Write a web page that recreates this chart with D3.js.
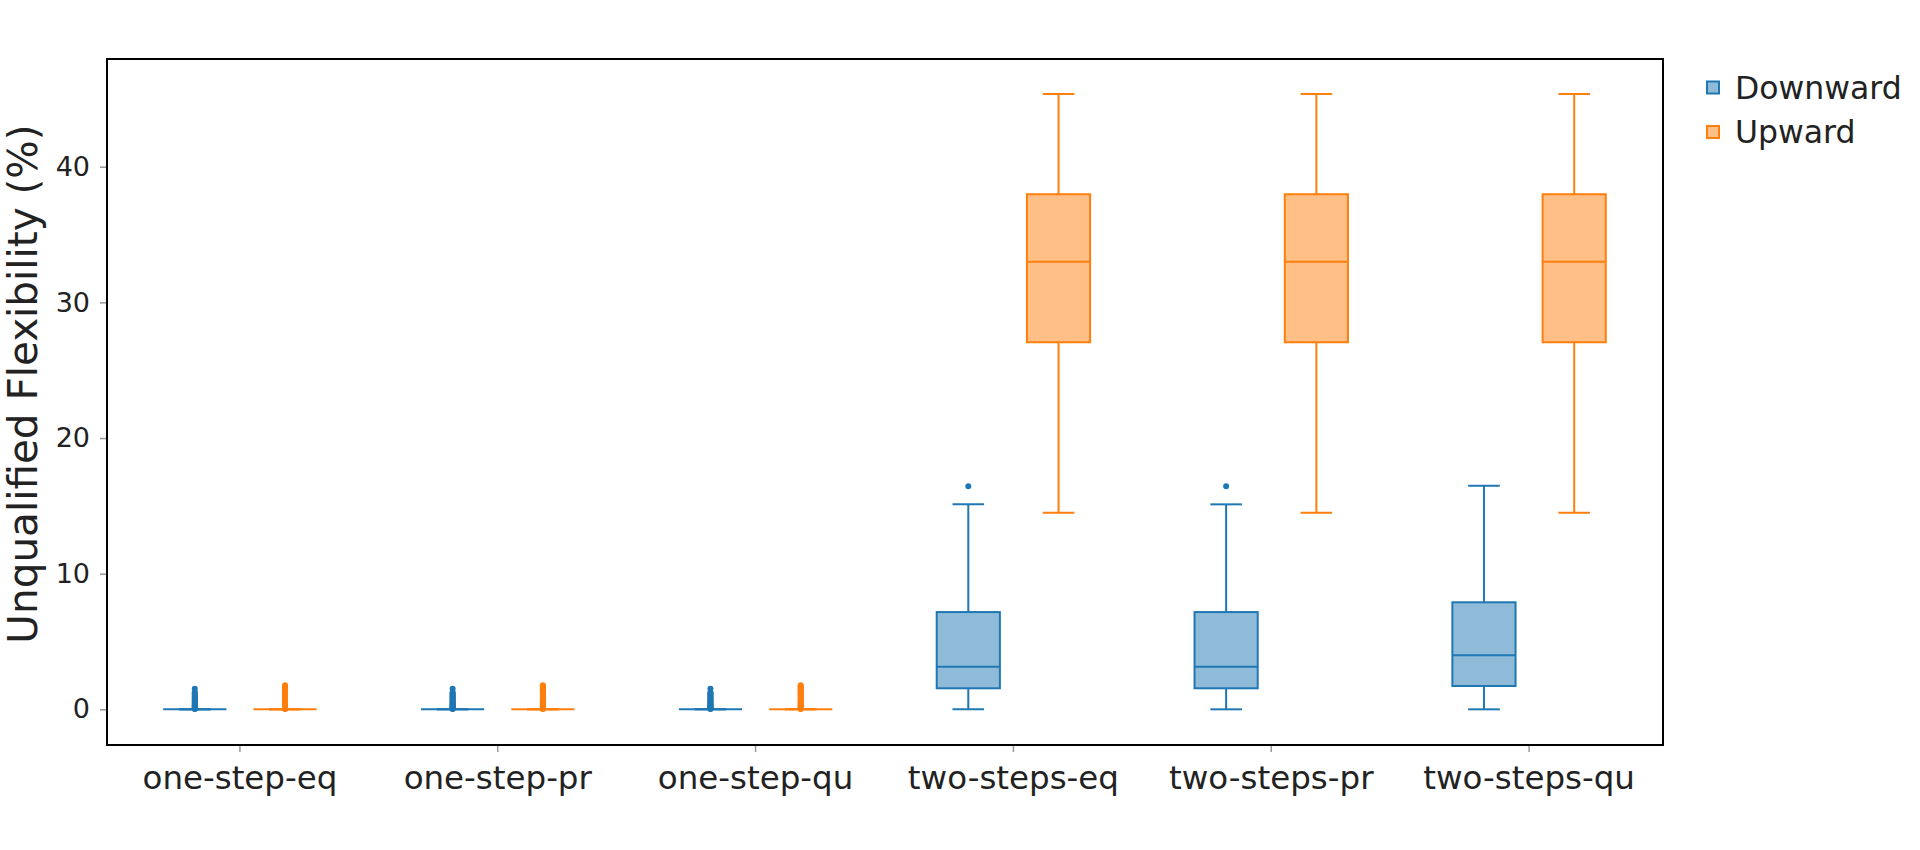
<!DOCTYPE html>
<html>
<head>
<meta charset="utf-8">
<script src="https://cdn.jsdelivr.net/npm/d3@7"></script>
<style>
  html, body { margin: 0; padding: 0; background: #fff; }
  svg { display: block; }
  text { font-family: "DejaVu Sans", Verdana, sans-serif; fill: #222; }
</style>
</head>
<body>
<svg id="chart" width="1920" height="850"></svg>
<script>
// ---- data ----
const categories = ["one-step-eq", "one-step-pr", "one-step-qu", "two-steps-eq", "two-steps-pr", "two-steps-qu"];
const seriesNames = ["Downward", "Upward"];
const seriesColors = ["#1f77b4", "#ff7f0e"];
const yTicks = [0, 10, 20, 30, 40];

// box statistics per category: [lowerWhisker, q1, median, q3, upperWhisker]
const downwardStats = [
  [0, 0, 0, 0, 0],
  [0, 0, 0, 0, 0],
  [0, 0, 0, 0, 0],
  [0, 1.55, 3.14, 7.17, 15.11],
  [0, 1.55, 3.14, 7.17, 15.11],
  [0, 1.72, 3.98, 7.89, 16.48]
];
const upwardStats = [
  [0, 0, 0, 0, 0],
  [0, 0, 0, 0, 0],
  [0, 0, 0, 0, 0],
  [14.49, 27.06, 33.0, 37.97, 45.36],
  [14.49, 27.06, 33.0, 37.97, 45.36],
  [14.49, 27.06, 33.0, 37.97, 45.36]
];
// outlier points per category
const downwardOutliers = [
  [0.02, 0.05, 0.08, 0.12, 0.16, 0.2, 0.25, 0.3, 0.35, 0.4, 0.46, 0.52, 0.58, 0.65, 0.72, 0.8, 0.88, 0.95, 1.02, 1.1, 1.18, 1.25, 1.52],
  [0.02, 0.05, 0.08, 0.12, 0.16, 0.2, 0.25, 0.3, 0.35, 0.4, 0.46, 0.52, 0.58, 0.65, 0.72, 0.8, 0.88, 0.95, 1.02, 1.1, 1.18, 1.25, 1.52],
  [0.02, 0.05, 0.08, 0.12, 0.16, 0.2, 0.25, 0.3, 0.35, 0.4, 0.46, 0.52, 0.58, 0.65, 0.72, 0.8, 0.88, 0.95, 1.02, 1.1, 1.18, 1.25, 1.52],
  [16.44],
  [16.44],
  []
];
const upwardOutliers = [
  [0.02, 0.05, 0.1, 0.15, 0.2, 0.26, 0.32, 0.38, 0.45, 0.52, 0.6, 0.68, 0.76, 0.84, 0.92, 1.0, 1.08, 1.16, 1.24, 1.32, 1.4, 1.48, 1.56, 1.64, 1.71, 1.77],
  [0.02, 0.05, 0.1, 0.15, 0.2, 0.26, 0.32, 0.38, 0.45, 0.52, 0.6, 0.68, 0.76, 0.84, 0.92, 1.0, 1.08, 1.16, 1.24, 1.32, 1.4, 1.48, 1.56, 1.64, 1.71, 1.77],
  [0.02, 0.05, 0.1, 0.15, 0.2, 0.26, 0.32, 0.38, 0.45, 0.52, 0.6, 0.68, 0.76, 0.84, 0.92, 1.0, 1.08, 1.16, 1.24, 1.32, 1.4, 1.48, 1.56, 1.64, 1.71, 1.77],
  [],
  [],
  []
];

// ---- layout ----
const frame = { left: 107, right: 1663, top: 59, bottom: 745 };
const svg = d3.select("#chart");

const x = d3.scaleBand().domain(categories).range([111, 1658]).paddingInner(0).paddingOuter(0);
const y = d3.scaleLinear().domain([-2.63, 47.94]).range([frame.bottom, frame.top]);

// group geometry (plotly-like boxgap/boxgroupgap 0.3)
const groupW = x.bandwidth() * 0.7;
const slotW = groupW / seriesNames.length;
const boxW = slotW * 0.7;
function boxCenter(cat, si) {
  return x(cat) + x.bandwidth() / 2 - groupW / 2 + slotW * (si + 0.5);
}

// frame
svg.append("rect")
  .attr("x", frame.left).attr("y", frame.top)
  .attr("width", frame.right - frame.left).attr("height", frame.bottom - frame.top)
  .attr("fill", "none").attr("stroke", "#000").attr("stroke-width", 2);

// y axis
const yAxis = svg.append("g").attr("transform", `translate(${frame.left - 1},0)`)
  .call(d3.axisLeft(y).tickValues(yTicks).tickSize(6).tickPadding(10).tickFormat(d3.format("d")));
yAxis.select(".domain").remove();
yAxis.selectAll(".tick line").attr("stroke", "#999").attr("stroke-width", 1.5);
yAxis.selectAll(".tick text").style("font-size", "27px").style("fill", "#222")
  .style("font-family", "'DejaVu Sans', Verdana, sans-serif");

// x axis
const xAxis = svg.append("g").attr("transform", `translate(0,${frame.bottom + 1})`)
  .call(d3.axisBottom(x).tickSize(6).tickPadding(14));
xAxis.select(".domain").remove();
xAxis.selectAll(".tick line").attr("stroke", "#999").attr("stroke-width", 1.5);
xAxis.selectAll(".tick text").style("font-size", "32.5px").style("fill", "#222")
  .style("font-family", "'DejaVu Sans', Verdana, sans-serif");

// y title
svg.append("text")
  .attr("transform", `translate(37,384) rotate(-90)`)
  .attr("text-anchor", "middle")
  .style("font-size", "40.5px")
  .text("Unqualified Flexibility (%)");

// boxes
const allStats = [downwardStats, upwardStats];
const allOutliers = [downwardOutliers, upwardOutliers];
seriesNames.forEach((name, si) => {
  const color = seriesColors[si];
  const g = svg.append("g");
  categories.forEach((cat, ci) => {
    const [lo, q1, med, q3, hi] = allStats[si][ci];
    const cx = boxCenter(cat, si);
    // whiskers
    g.append("line").attr("x1", cx).attr("x2", cx).attr("y1", y(q3)).attr("y2", y(hi))
      .attr("stroke", color).attr("stroke-width", 2);
    g.append("line").attr("x1", cx).attr("x2", cx).attr("y1", y(q1)).attr("y2", y(lo))
      .attr("stroke", color).attr("stroke-width", 2);
    g.append("line").attr("x1", cx - boxW / 4).attr("x2", cx + boxW / 4).attr("y1", y(hi)).attr("y2", y(hi))
      .attr("stroke", color).attr("stroke-width", 2);
    g.append("line").attr("x1", cx - boxW / 4).attr("x2", cx + boxW / 4).attr("y1", y(lo)).attr("y2", y(lo))
      .attr("stroke", color).attr("stroke-width", 2);
    // box
    g.append("rect").attr("x", cx - boxW / 2).attr("y", y(q3))
      .attr("width", boxW).attr("height", Math.max(0, y(q1) - y(q3)))
      .attr("fill", color).attr("fill-opacity", 0.5)
      .attr("stroke", color).attr("stroke-width", 2);
    // median
    g.append("line").attr("x1", cx - boxW / 2).attr("x2", cx + boxW / 2).attr("y1", y(med)).attr("y2", y(med))
      .attr("stroke", color).attr("stroke-width", 2);
    // outliers
    g.selectAll(null).data(allOutliers[si][ci]).enter().append("circle")
      .attr("cx", cx).attr("cy", d => y(d)).attr("r", 3)
      .attr("fill", color);
  });
});

// legend
const legend = svg.append("g");
seriesNames.forEach((name, si) => {
  const cy = [87.5, 132][si];
  legend.append("rect").attr("x", 1707).attr("y", cy - 6).attr("width", 12).attr("height", 12)
    .attr("fill", seriesColors[si]).attr("fill-opacity", 0.5)
    .attr("stroke", seriesColors[si]).attr("stroke-width", 2);
  legend.append("text").attr("x", 1735).attr("y", cy + 11)
    .style("font-size", "31.5px").text(name);
});
</script>
</body>
</html>
